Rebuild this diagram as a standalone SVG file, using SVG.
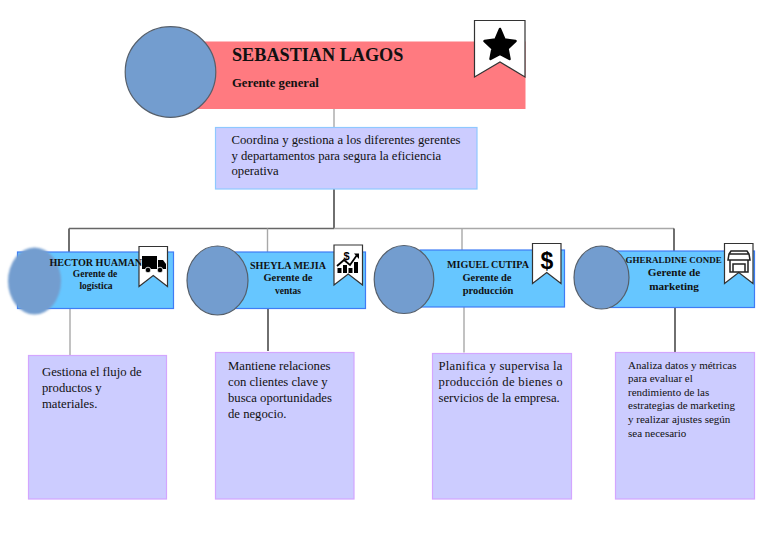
<svg xmlns="http://www.w3.org/2000/svg" width="768" height="543" viewBox="0 0 768 543">
<style>
text{font-family:"Liberation Serif","Times New Roman",serif;fill:#111}
.b{font-weight:bold}
.m{text-anchor:middle}
.card{fill:#66c6ff;stroke:#3f7cf5;stroke-width:1.2}
.desc{fill:#ccccff;stroke:#d3a6ff;stroke-width:1.2}
.av{fill:#739dcf;stroke:#555f6b;stroke-width:1.2}
.tag{fill:#fff;stroke:#333;stroke-width:1.2}
.g{stroke:#a8a8a8;stroke-width:1.4;fill:none}
.k{stroke:#222;stroke-width:1.3;fill:none}
.n{font-size:10.1px}
.t{font-size:10.5px}
.d{font-size:12.7px}
</style>
<defs>
<filter id="soft" x="-20%" y="-20%" width="140%" height="140%"><feGaussianBlur stdDeviation="1.3"/></filter>
<path id="tagS" d="M0 0H28.500V40L14.250 29L0 40Z"/>
</defs>
<g id="connectors">
<path class="g" d="M334 109V127"/>
<path class="k" d="M334 189V228"/>
<path class="k" d="M69 252V228.500"/>
<path stroke="#666" stroke-width="1.400" fill="none" d="M69 228.500H334"/>
<path class="g" d="M334 228.500H674"/>
<path class="k" d="M674 228.500V251"/>
<path class="g" d="M267.500 228.500V252"/>
<path class="g" d="M462 228.500V250"/>
<path class="g" d="M70 308.500V355"/>
<path class="k" d="M268 308.500V351"/>
<path class="g" d="M464 307V352.500"/>
<path class="k" d="M675 307.500V352"/>
</g>
<g id="general">
<rect x="190" y="41.500" width="335.500" height="67.500" fill="#ff7a80"/>
<circle class="av" cx="170.500" cy="72" r="45.300"/>
<path fill="#fff" stroke="#333" stroke-width="1.200" d="M474.500 20.500H525V77L500 62L474.500 77Z"/>
<path fill="#000" stroke="#000" stroke-width="2.500" stroke-linejoin="round" d="M500 29L504.500 39.500L515.500 41L507.500 48.500L509.500 59L500 54L490.500 59L492.500 48.500L484.500 41L495.500 39.500Z"/>
<text class="b" x="232" y="61" font-size="18.200">SEBASTIAN LAGOS</text>
<text class="b" x="232" y="87" font-size="12.700">Gerente general</text>
</g>
<g id="general-desc">
<rect x="215.500" y="127.500" width="261.500" height="61.500" fill="#ccccff" stroke="#8fc8ff" stroke-width="1.200"/>
<text class="d" x="231.500" y="144" textLength="229">Coordina y gestiona a los diferentes gerentes</text>
<text class="d" x="231.500" y="159.500">y departamentos para segura la eficiencia</text>
<text class="d" x="231.500" y="175">operativa</text>
</g>
<g id="hector">
<rect class="card" x="17.500" y="252" width="156" height="56.500"/>
<ellipse cx="34.500" cy="281" rx="26.500" ry="33.500" fill="#739dcf" filter="url(#soft)"/>
<use href="#tagS" class="tag" x="139" y="246.500"/>
<text class="b n" x="49.500" y="266">HECTOR HUAMANI</text>
<path fill="#000" d="M142 256H157V269H142ZM158 260H163L166 264V269H158Z"/>
<circle cx="148" cy="270" r="2.800" fill="#000" stroke="#fff" stroke-width=".8"/>
<circle cx="160" cy="270" r="2.800" fill="#000" stroke="#fff" stroke-width=".8"/>
<text class="b m" x="95" y="277" font-size="9.500">Gerente de</text>
<text class="b m" x="96" y="288.500" font-size="9.500">logística</text>
</g>
<g id="sheyla">
<rect class="card" x="235" y="252" width="130.500" height="56.500"/>
<ellipse class="av" cx="217.500" cy="280.500" rx="30.500" ry="34.500"/>
<use href="#tagS" class="tag" x="334" y="245"/>
<path fill="#000" d="M337.500 268H341.500V273H337.500ZM343 265H347V273H343ZM348.500 268H352.500V273H348.500ZM354 262H358V273H354Z"/>
<path fill="none" stroke="#000" stroke-width="1.800" d="M337 266L344 260L350 265L357 255"/>
<path fill="#000" d="M354 253.500H359V259Z"/>
<text class="b m" x="346.500" y="260" font-size="11" style="font-family:'Liberation Sans',sans-serif;fill:#000">$</text>
<text class="b n" x="250" y="269">SHEYLA MEJIA</text>
<text class="b m t" x="288" y="280.500">Gerente de</text>
<text class="b m" x="288" y="293.500" font-size="9.500">ventas</text>
</g>
<g id="miguel">
<rect class="card" x="420" y="250" width="144.500" height="57"/>
<ellipse class="av" cx="404" cy="279.500" rx="29.800" ry="34"/>
<use href="#tagS" class="tag" x="532.500" y="243.500"/>
<text x="547" y="269" font-size="23" font-weight="bold" text-anchor="middle" style="font-family:'Liberation Sans',sans-serif;fill:#000">$</text>
<text class="b n" x="447" y="268">MIGUEL CUTIPA</text>
<text class="b m t" x="487" y="280.500">Gerente de</text>
<text class="b m t" x="488" y="293.500">producción</text>
</g>
<g id="gheraldine">
<rect class="card" x="610" y="251" width="144.500" height="56.500"/>
<ellipse class="av" cx="601.500" cy="277.500" rx="27.500" ry="31.500"/>
<use href="#tagS" class="tag" x="724.500" y="243.500"/>
<path fill="none" stroke="#222" stroke-width="1.500" d="M729 254H749M731 251H747L749 254L750 260H728L729 254ZM730 260V272H748V260M733 264H745V272H733Z"/>
<text class="b" x="625.500" y="263" font-size="9">GHERALDINE CONDE</text>
<text class="b m" x="674" y="276" font-size="11.200">Gerente de</text>
<text class="b m" x="674" y="290" font-size="11.200">marketing</text>
</g>
<g id="desc-logistica">
<rect class="desc" x="28.500" y="355.500" width="138" height="143.500"/>
<text class="d" x="42" y="376">Gestiona el flujo de</text>
<text class="d" x="42" y="392">productos y</text>
<text class="d" x="42" y="408">materiales.</text>
</g>
<g id="desc-ventas">
<rect class="desc" x="215.500" y="352.500" width="138.500" height="146.500"/>
<text class="d" x="228" y="370">Mantiene relaciones</text>
<text class="d" x="228" y="386">con clientes clave y</text>
<text class="d" x="228" y="402">busca oportunidades</text>
<text class="d" x="228" y="418">de negocio.</text>
</g>
<g id="desc-produccion">
<rect class="desc" x="432.500" y="353.500" width="139" height="145.500"/>
<text class="d" x="438.500" y="370" textLength="124">Planifica y supervisa la</text>
<text class="d" x="438.500" y="386" textLength="124">producción de bienes o</text>
<text class="d" x="438.500" y="402">servicios de la empresa.</text>
</g>
<g id="desc-marketing">
<rect class="desc" x="615.500" y="352.500" width="139" height="146.500"/>
<g font-size="11"><text x="628" y="368.500">Analiza datos y métricas</text>
<text x="628" y="382">para evaluar el</text>
<text x="628" y="395.500">rendimiento de las</text>
<text x="628" y="409">estrategias de marketing</text>
<text x="628" y="423">y realizar ajustes según</text>
<text x="628" y="436.500">sea necesario</text></g>
</g>
</svg>
